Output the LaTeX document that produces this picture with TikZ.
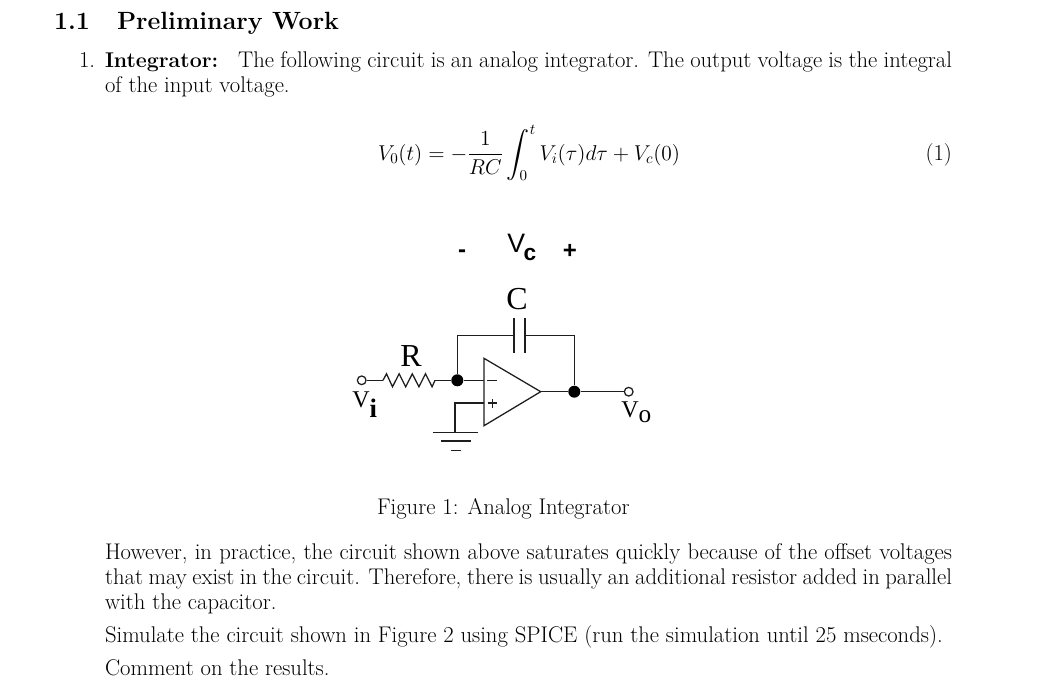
\documentclass[tikz,border=0pt]{standalone}
\usepackage{fix-cm}
\usepackage{exscale}
\usepackage{fontspec}
\newfontfamily\circuitserif{Liberation Serif}
\newfontfamily\circuitsans{Liberation Sans}
\newcommand{\bodysize}{\fontsize{17}{18.75}\selectfont}
\newcommand{\leadbold}[1]{{\bfseries\fontsize{16}{18.75}\selectfont #1}}
\tikzset{
  bodytext/.style={anchor=base west,inner sep=0pt,outer sep=0pt,font=\bodysize},
  parabox/.style={bodytext,text width=635.25pt,align=justify},
  headtext/.style={bodytext,font=\bfseries\fontsize{18.7}{22}\selectfont},
  wire/.style={draw={rgb,255:red,30;green,30;blue,30},line width=0.95pt},
  junction/.style={circle,fill=black,inner sep=0pt,minimum size=9pt},
  terminal/.style={circle,draw={rgb,255:red,30;green,30;blue,30},fill=white,line width=0.95pt,inner sep=0pt,minimum size=6.5pt},
  partlabel/.style={inner sep=0pt,font=\circuitserif\fontsize{24}{24}\selectfont},
  portlabel/.style={anchor=base west,inner sep=0pt,font=\circuitserif\fontsize{18}{18}\selectfont},
  signlabel/.style={inner sep=0pt,font=\circuitsans\fontsize{18}{18}\selectfont},
}
\begin{document}
\begin{tikzpicture}[x=0.75pt,y=0.75pt,yscale=-1,xscale=1]
\useasboundingbox (0,0) rectangle (1057,697);

% Text Node
\node [headtext] (secnum) at (54,29) {1.1};
\node [headtext] (sectitle) at (117,29) {Preliminary Work};
\node [bodytext] (itemnum) at (79,67) {1.};
\node [parabox] (intro) at (105,67) {\leadbold{Integrator:}\hspace*{15pt}The following circuit is an analog integrator. The output voltage is the integral of the input voltage.};
\node [bodytext,font=\fontsize{16.1}{18.75}\selectfont] (equation) at (378,160) {$\displaystyle V_0(t)=-\frac{1}{RC}\int_0^t V_i(\tau)d\tau+V_c(0)$};
\node [bodytext,anchor=base east] (eqnum) at (952,160) {(1)};
\node [bodytext] (caption) at (377,514) {Figure 1: Analog Integrator};
\node [parabox] (however) at (105,559.5) {However, in practice, the circuit shown above saturates quickly because of the offset voltages that may exist in the circuit. Therefore, there is usually an additional resistor added in parallel with the capacitor.};
\node [bodytext] (simulate) at (105,642.5) {Simulate the circuit shown in Figure 2 using SPICE (run the simulation until 25 mseconds).};
\node [bodytext] (comment) at (105,675.5) {Comment on the results.};

% Circuit points
\node [terminal] (vin) at (361.7,380.3) {};
\node [terminal] (vout) at (628.7,391.7) {};
\node [junction] (nodeinv) at (457.3,380.3) {};
\node [junction] (nodeout) at (574.3,391.7) {};
\coordinate (resleft) at (383,380.3);
\coordinate (resright) at (435,380.3);
\coordinate (topleft) at (457.3,335.3);
\coordinate (topright) at (574.3,335.3);
\coordinate (capleft) at (514,335.3);
\coordinate (capright) at (525,335.3);
\coordinate (ampa) at (484,358.3);
\coordinate (ampb) at (484,425.7);
\coordinate (ampout) at (540.7,391.7);
\coordinate (ampinv) at (484,380.3);
\coordinate (ampnon) at (484,403);
\coordinate (gndcorner) at (455,403);
\coordinate (gnd) at (455,432.7);

% Wires
\draw [wire] (vin) -- (resleft);
\draw [wire] (resleft) -- ++(3.5,-6.5) -- ++(6,13) -- ++(6.6,-13) -- ++(6.6,13) -- ++(6.6,-13) -- ++(6.6,13) -- ++(6.6,-13) -- ++(6.6,13) -- (resright);
\draw [wire] (resright) -- (nodeinv);
\draw [wire] (nodeinv) -- (ampinv);
\draw [wire] (nodeinv) -- (topleft) -- (capleft);
\draw [wire] (capright) -- (topright) -- (nodeout);
\draw [wire] (ampout) -- (nodeout);
\draw [wire] (nodeout) -- (vout);
\draw [wire] (ampnon) -- (gndcorner) -- (gnd);

% Capacitor plates
\draw [wire] (514,318) -- (514,352.7);
\draw [wire] (525,318) -- (525,352.7);
% Op amp
\draw [wire] (ampa) -- (ampout) -- (ampb) -- cycle;
\draw [wire] (487,380.3) -- (497,380.3);
\draw [wire] (488,403) -- (497,403);
\draw [wire] (492.7,399) -- (492.7,408);
% Ground
\draw [wire] (432.7,432.7) -- (478.3,432.7);
\draw [wire] (441,441) -- (470.7,441);
\draw [wire] (450.7,450.7) -- (460.7,450.7);

% Text Node
\node [partlabel] (labelr) at (411,356) {R};
\node [partlabel] (labelc) at (517,299) {C};
\node [portlabel] (labelvi) at (352,407) {V\raisebox{-8pt}{\bfseries\fontsize{20}{20}\selectfont i}};
\node [portlabel] (labelvo) at (621,417) {V\raisebox{-3.75pt}{\fontsize{19}{19}\selectfont o}};
\node [signlabel] (labelminus) at (462,254) {\textbf{-}};
\node [signlabel,anchor=base west,font=\circuitsans\fontsize{20}{20}\selectfont] (labelvc) at (507,252) {V\hspace*{-1pt}\raisebox{-6pt}{\bfseries\fontsize{17}{17}\selectfont c}};
\node [signlabel] (labelplus) at (570,251) {\textbf{+}};
\end{tikzpicture}
\end{document}
